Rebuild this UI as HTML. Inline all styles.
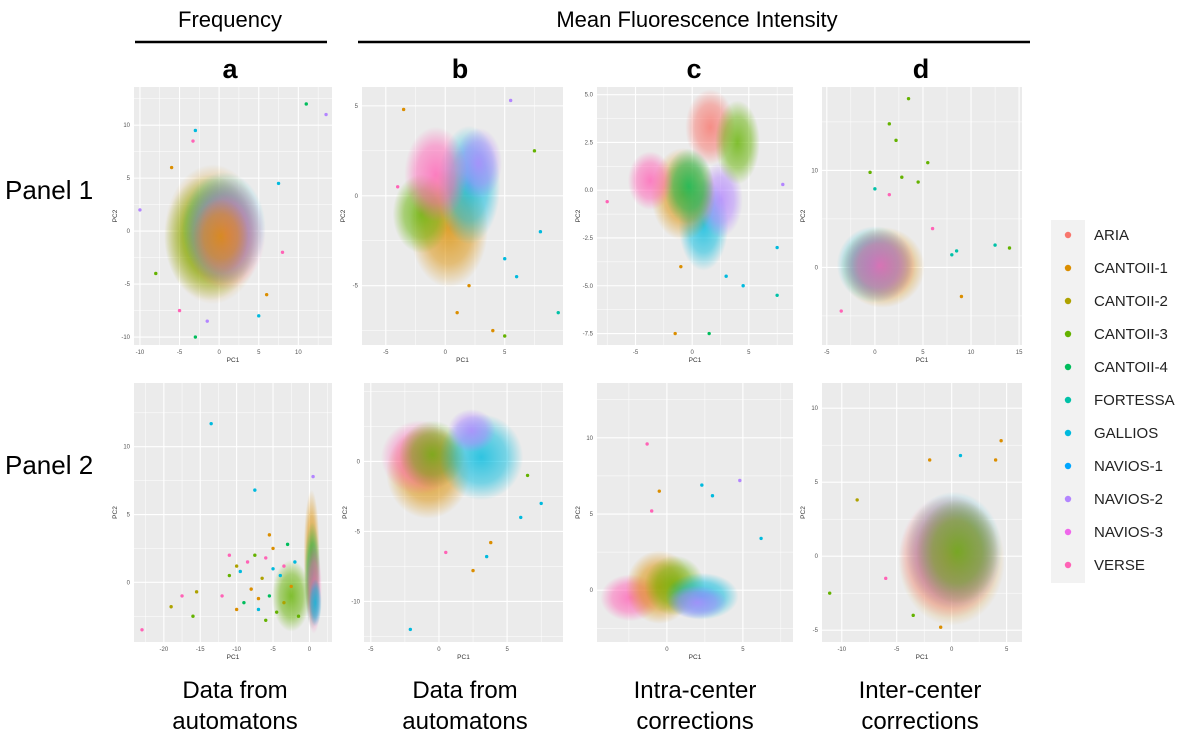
<!DOCTYPE html>
<html><head><meta charset="utf-8"><style>
html,body{margin:0;padding:0;background:#fff;}
svg{display:block;font-family:"Liberation Sans",sans-serif;}
</style></head><body>
<svg id="fig" width="1200" height="737" viewBox="0 0 1200 737" xmlns="http://www.w3.org/2000/svg">
<defs id="defs"></defs>
<g>
<text x="230" y="27" font-size="22" text-anchor="middle">Frequency</text>
<line x1="135" y1="42" x2="327" y2="42" stroke="#000" stroke-width="2.5"/>
<text x="697" y="27" font-size="22" text-anchor="middle">Mean Fluorescence Intensity</text>
<line x1="358" y1="42" x2="1030" y2="42" stroke="#000" stroke-width="2.5"/>
<text x="230" y="78" font-size="27" font-weight="bold" text-anchor="middle">a</text>
<text x="460" y="78" font-size="27" font-weight="bold" text-anchor="middle">b</text>
<text x="694" y="78" font-size="27" font-weight="bold" text-anchor="middle">c</text>
<text x="921" y="78" font-size="27" font-weight="bold" text-anchor="middle">d</text>
<text x="5" y="199" font-size="26">Panel 1</text>
<text x="5" y="474" font-size="26">Panel 2</text>
</g>
<g font-size="24" text-anchor="middle">
<text x="235" y="698">Data from</text>
<text x="235" y="729">automatons</text>
<text x="465" y="698">Data from</text>
<text x="465" y="729">automatons</text>
<text x="695" y="698">Intra-center</text>
<text x="695" y="729">corrections</text>
<text x="920" y="698">Inter-center</text>
<text x="920" y="729">corrections</text>
</g>
<g id="plots"></g>
<g id="legend"></g>
</svg>
<script>
const groupNames = ["ARIA","CANTOII-1","CANTOII-2","CANTOII-3","CANTOII-4","FORTESSA","GALLIOS","NAVIOS-1","NAVIOS-2","NAVIOS-3","VERSE"];
const groupColors = ["#F8766D","#DB8E00","#AEA200","#64B200","#00BD5C","#00C1A7","#00BADE","#00A6FF","#B385FF","#EF67EB","#FF63B6"];

// cluster data: [group, centerX, centerY, sdX, sdY]
const a1Clusters = [[1,-0.8,-0.3,2.8,3.0],[3,-1.2,-0.6,2.6,2.7],[6,0.6,0.3,2.4,2.4],[10,0.8,-0.3,2.3,2.4],[1,0.2,-0.5,1.6,1.6]];
const a1Points = [[4,11,12],[8,13.5,11],[6,-3,9.5],[10,-3.3,8.5],[6,7.5,4.5],[8,-10,2],[4,-3,-10],[10,-5,-7.5],[8,-1.5,-8.5],[1,-6,6],[6,5,-8],[3,-8,-4],[1,6,-6],[10,8,-2]];
const b1Clusters = [[1,0.3,-1.8,1.5,1.5],[3,-2,-1,1.1,1.0],[6,2,0.6,1.2,1.5],[8,2.8,1.8,0.9,0.9],[10,-0.8,1.2,1.2,1.2]];
const b1Points = [[1,-3.5,4.8],[3,7.5,2.5],[8,5.5,5.3],[5,9.5,-6.5],[3,5,-7.8],[6,8,-2],[1,4,-7.5],[1,1,-6.5],[6,6,-4.5],[1,2,-5],[6,5,-3.5],[10,-4,0.5]];
const c1Clusters = [[0,1.6,3.3,1.0,0.9],[6,1,-1.8,1.0,1.1],[8,2.5,-0.5,0.9,0.9],[3,4,2.5,0.9,1.0],[1,-0.8,-0.2,1.3,1.1],[4,-0.3,0.2,1.0,0.9],[10,-3.7,0.5,0.9,0.7]];
const c1Points = [[6,7.5,-3],[8,8,0.3],[5,7.5,-5.5],[4,1.5,-7.5],[1,-1.5,-7.5],[10,-7.5,-0.6],[6,4.5,-5],[6,3,-4.5],[1,-1,-4]];
const d1Clusters = [[1,0.8,0,2.0,1.9],[6,0,0.3,1.8,1.8],[10,0.5,0.2,1.7,1.7]];
const d1Points = [[3,3.5,17.4],[3,1.5,14.8],[3,2.2,13.1],[3,5.5,10.8],[3,-0.5,9.8],[3,2.8,9.3],[3,4.5,8.8],[10,1.5,7.5],[5,0,8.1],[3,14,2],[5,12.5,2.3],[5,8,1.3],[5,8.5,1.7],[10,6,4],[1,9,-3],[10,-3.5,-4.5]];
const a2Clusters = [[1,0.3,2,0.5,2.2],[4,0.4,0.5,0.5,1.8],[10,0.6,-0.5,0.5,1.5],[6,0.8,-1.5,0.4,0.8],[3,-2.5,-1,1.2,1.2]];
const a2Points = [[6,-13.5,11.7],[10,-23,-3.5],[10,-17.5,-1],[2,-15.5,-0.7],[6,-7.5,6.8],[1,-5.5,3.5],[8,0.5,7.8],[3,-16,-2.5],[2,-19,-1.8],
 [10,-12,-1],[3,-11,0.5],[1,-10,-2],[6,-9.5,0.8],[4,-9,-1.5],[10,-8.5,1.5],[1,-8,-0.5],[3,-7.5,2],[6,-7,-2],[2,-6.5,0.3],[10,-6,1.8],[4,-5.5,-1],[1,-5,2.5],[3,-4.5,-2.2],[6,-4,0.5],[10,-3.5,1.2],[2,-3.5,-1.5],[4,-3,2.8],[1,-2.5,-0.3],[6,-2,1.5],[3,-1.5,-2.5],[10,-11,2],[2,-10,1.2],[3,-6,-2.8],[6,-5,1],[1,-7,-1.2]];
const b2Clusters = [[1,-0.8,-0.8,1.4,1.5],[10,-1.4,0.3,1.3,1.2],[3,-0.5,0.5,1.1,1.1],[6,3.1,0.3,1.4,1.4],[8,2.4,2.2,0.8,0.7]];
const b2Points = [[6,-2.1,-12],[1,2.5,-7.8],[6,7.5,-3],[6,10,0.4],[3,6.5,-1],[10,0.5,-6.5],[6,3.5,-6.8],[1,3.8,-5.8],[6,6,-4]];
const c2Clusters = [[10,-2.4,-0.5,0.9,0.7],[1,-0.5,0.2,1.0,1.1],[3,0.5,0.3,0.9,0.9],[6,2.3,-0.4,1.1,0.7],[8,2,-0.8,0.9,0.5]];
const c2Points = [[10,-1.3,9.6],[8,4.8,7.2],[6,2.3,6.9],[6,3,6.2],[3,9.3,3.3],[6,9,0],[6,6.2,3.4],[1,-0.5,6.5],[10,-1,5.2]];
const d2Clusters = [[1,0,-0.3,2.2,2.0],[6,0.2,0.4,2.0,1.8],[10,-0.2,0,2.1,1.9],[3,0.5,0.3,1.7,1.6]];
const d2Points = [[3,-11.1,-2.5],[2,-8.6,3.8],[1,4.5,7.8],[6,0.8,6.8],[1,-2,6.5],[1,4,6.5],[10,-6,-1.5],[3,-3.5,-4],[1,-1,-4.8]];

const a1XTicks=[-10,-5,0,5,10], a1YTicks=[-10,-5,0,5,10];
const b1XTicks=[-5,0,5], b1YTicks=[-5,0,5];
const c1XTicks=[-5,0,5], c1YTicks=[-7.5,-5,-2.5,0,2.5,5];
const d1XTicks=[-5,0,5,10,15], d1YTicks=[0,10];
const a2XTicks=[-20,-15,-10,-5,0], a2YTicks=[0,5,10];
const b2XTicks=[-5,0,5], b2YTicks=[-10,-5,0];
const c2XTicks=[0,5], c2YTicks=[0,5,10];
const d2XTicks=[-10,-5,0,5], d2YTicks=[-5,0,5,10];

const NS="http://www.w3.org/2000/svg";
function mk(tag,attrs,parent){const e=document.createElementNS(NS,tag);for(const k in attrs)e.setAttribute(k,attrs[k]);parent.appendChild(e);return e;}
const defs=document.getElementById('defs');
groupColors.forEach((c,i)=>{
  const g=mk('radialGradient',{id:'grad'+i},defs);
  mk('stop',{offset:'0%','stop-color':c,'stop-opacity':'0.8'},g);
  mk('stop',{offset:'60%','stop-color':c,'stop-opacity':'0.5'},g);
  mk('stop',{offset:'100%','stop-color':c,'stop-opacity':'0'},g);
});

const panels=[
 {id:'a1',L:134,R:332,T:87,B:345,x:[-10.75,14.25],y:[-10.75,13.6],cl:a1Clusters,pt:a1Points,xt:a1XTicks,yt:a1YTicks,dec:0},
 {id:'b1',L:362,R:563,T:87,B:345,x:[-7.0,9.9],y:[-8.3,6.05],cl:b1Clusters,pt:b1Points,xt:b1XTicks,yt:b1YTicks,dec:0},
 {id:'c1',L:597,R:793,T:87,B:345,x:[-8.4,8.9],y:[-8.1,5.4],cl:c1Clusters,pt:c1Points,xt:c1XTicks,yt:c1YTicks,dec:1},
 {id:'d1',L:822,R:1022,T:87,B:345,x:[-5.5,15.3],y:[-8.0,18.6],cl:d1Clusters,pt:d1Points,xt:d1XTicks,yt:d1YTicks,dec:0},
 {id:'a2',L:134,R:332,T:383,B:642,x:[-24.1,3.1],y:[-4.4,14.7],cl:a2Clusters,pt:a2Points,xt:a2XTicks,yt:a2YTicks,dec:0},
 {id:'b2',L:364,R:563,T:383,B:642,x:[-5.5,9.1],y:[-12.9,5.6],cl:b2Clusters,pt:b2Points,xt:b2XTicks,yt:b2YTicks,dec:0},
 {id:'c2',L:597,R:793,T:383,B:642,x:[-4.6,8.3],y:[-3.4,13.6],cl:c2Clusters,pt:c2Points,xt:c2XTicks,yt:c2YTicks,dec:0},
 {id:'d2',L:822,R:1022,T:383,B:642,x:[-11.8,6.4],y:[-5.8,11.7],cl:d2Clusters,pt:d2Points,xt:d2XTicks,yt:d2YTicks,dec:0}
];
const plots=document.getElementById('plots');
panels.forEach(p=>{
  const sx=v=>p.L+(v-p.x[0])/(p.x[1]-p.x[0])*(p.R-p.L);
  const sy=v=>p.B-(v-p.y[0])/(p.y[1]-p.y[0])*(p.B-p.T);
  const g=mk('g',{},plots);
  
  
  const bg=mk('rect',{x:p.L,y:p.T,width:p.R-p.L,height:p.B-p.T,fill:'#EBEBEB'},g);
  
  
  const clip='clip'+p.id;
  const cp=mk('clipPath',{id:clip},defs);mk('rect',{x:p.L,y:p.T,width:p.R-p.L,height:p.B-p.T},cp);
  const stepX=p.xt[1]-p.xt[0], stepY=p.yt.length>1?p.yt[1]-p.yt[0]:5;
  for(let v=p.xt[0]-stepX;v<=p.x[1]+stepX;v+=stepX/2){
    if(v<p.x[0]||v>p.x[1])continue;
    const major=p.xt.includes(Math.round(v*100)/100);
    const l=mk('line',{x1:sx(v),x2:sx(v),y1:p.T,y2:p.B,stroke:'#fff','stroke-width':major?1.1:0.5},g);
    
    
  }
  for(let v=p.yt[0]-stepY;v<=p.y[1]+stepY;v+=stepY/2){
    if(v<p.y[0]||v>p.y[1])continue;
    const major=p.yt.includes(Math.round(v*100)/100);
    const l=mk('line',{y1:sy(v),y2:sy(v),x1:p.L,x2:p.R,stroke:'#fff','stroke-width':major?1.1:0.5},g);
    
    
  }
  const mg=mk('g',{'clip-path':'url(#'+clip+')'},g);
  
  
  p.cl.forEach(c=>{
    const e=mk('ellipse',{cx:sx(c[1]),cy:sy(c[2]),rx:Math.abs(sx(c[1]+2.2*c[3])-sx(c[1])),ry:Math.abs(sy(c[2]+2.2*c[4])-sy(c[2])),fill:'url(#grad'+c[0]+')'},mg);
    
    
  });
  p.pt.forEach(c=>{
    const e=mk('circle',{cx:sx(c[1]),cy:sy(c[2]),r:1.7,fill:groupColors[c[0]]},mg);
    
    
  });
  p.xt.forEach(v=>{
    const t=mk('text',{x:sx(v),y:p.B+9,'font-size':6,fill:'#555','text-anchor':'middle'},g);
    t.textContent=String(v);
    
    
  });
  p.yt.forEach(v=>{
    const t=mk('text',{x:p.L-4,y:sy(v)+2,'font-size':6,fill:'#555','text-anchor':'end'},g);
    t.textContent=p.dec?v.toFixed(1):String(v);
    
    
  });
  const xl=mk('text',{x:(p.L+p.R)/2,y:p.B+17,'font-size':6.5,fill:'#333','text-anchor':'middle'},g);
  xl.textContent='PC1';
  
  
  const yx=p.L-17, yy=(p.T+p.B)/2;
  const yl=mk('text',{x:yx,y:yy,'font-size':6.5,fill:'#333','text-anchor':'middle',transform:'rotate(-90 '+yx+' '+yy+')'},g);
  yl.textContent='PC2';
  
  
});
const lg=document.getElementById('legend');
const lbg=mk('rect',{x:1051,y:220,width:34,height:363,fill:'#F2F2F2'},lg);


groupNames.forEach((n,i)=>{
  const y=235+i*33;
  const eg=mk('g',{},lg);
  
  
  mk('circle',{cx:1068,cy:y,r:3.2,fill:groupColors[i]},eg);
  const t=mk('text',{x:1094,y:y+5,'font-size':15,fill:'#222'},eg);
  t.textContent=n;
});
</script>
</body></html>
